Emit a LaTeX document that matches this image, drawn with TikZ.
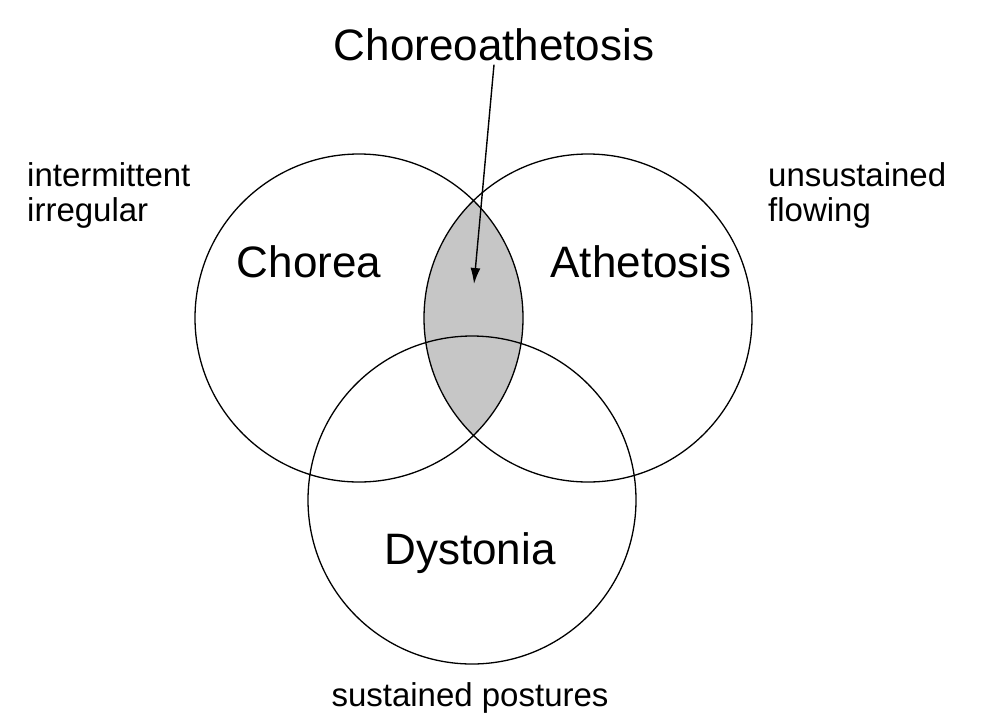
\documentclass[tikz,border=0pt]{standalone}
\usepackage{fontspec}
\usetikzlibrary{arrows.meta}
\setmainfont{Liberation Sans}
\begin{document}
\begin{tikzpicture}[x=1pt,y=-1pt,
  circ/.style={draw=black,line width=1.3pt},
  big/.style={font=\fontsize{44}{50}\selectfont},
  small/.style={font=\fontsize{33}{35}\selectfont,align=left}]
\fill[white] (0,0) rectangle (984,726);
\useasboundingbox (0,0) rectangle (984,726);
\begin{scope}
  \clip (359,318) circle (164);
  \fill[gray!45] (588,318) circle (164);
\end{scope}
\draw[circ] (359,318) circle (164);
\draw[circ] (588,318) circle (164);
\draw[circ] (472,500) circle (164);
\node[big] (ct) at (494,45) {Choreoathetosis};
\coordinate (tip) at (474,284);
\draw[-{Latex[length=16pt,width=10pt]},line width=1.4pt] (ct.south) -- (tip);
\node[big] (ch) at (309,262) {Chorea};
\node[big] (at) at (641,262) {Athetosis};
\node[big] (dy) at (470,553) {Dystonia};
\node[small,anchor=north west,inner sep=0pt] (ii) at (27,162) {intermittent\\irregular};
\node[small,anchor=north west,inner sep=0pt] (uf) at (768,162) {unsustained\\flowing};
\node[small] (sp) at (470,698) {sustained postures};
\end{tikzpicture}
\end{document}
